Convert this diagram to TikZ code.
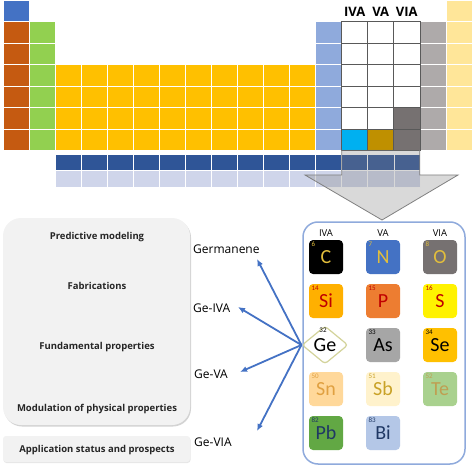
\documentclass[tikz,border=0pt]{standalone}
\usepackage{fontspec}
\setmainfont{Open Sans}
\newfontfamily\elfont{Carlito}
\usetikzlibrary{shapes.geometric,shadows,arrows.meta}

\definecolor{hblue}{HTML}{4472C4}
\definecolor{alkali}{HTML}{C55A11}
\definecolor{alkearth}{HTML}{92D050}
\definecolor{dblock}{HTML}{FFC000}
\definecolor{boron}{HTML}{8FAADC}
\definecolor{halogen}{HTML}{AEAAAA}
\definecolor{noble}{HTML}{FFE699}
\definecolor{lanth}{HTML}{2F5597}
\definecolor{actin}{HTML}{CFD5EA}
\definecolor{gridgray}{HTML}{595959}
\definecolor{darkgray}{HTML}{767171}
\definecolor{tlcyan}{HTML}{00B0F0}
\definecolor{bigold}{HTML}{BF9000}
\definecolor{panelgray}{HTML}{F2F2F2}
\definecolor{boxblue}{HTML}{8FAADC}
\definecolor{linkblue}{HTML}{4472C4}
\definecolor{elgold}{HTML}{E2BE3C}
\definecolor{elred}{HTML}{C00000}
\definecolor{elnavy}{HTML}{1F3864}
\definecolor{geedge}{HTML}{D3D39A}
\definecolor{sifill}{HTML}{FFB000}
\definecolor{pfill}{HTML}{ED7D31}
\definecolor{asfill}{HTML}{A6A6A6}
\definecolor{snfill}{HTML}{FFD89A}
\definecolor{sntext}{HTML}{E0A040}
\definecolor{sbfill}{HTML}{FFF2CC}
\definecolor{sbtext}{HTML}{C9A227}
\definecolor{tefill}{HTML}{A9D18E}
\definecolor{tetext}{HTML}{BF9F52}
\definecolor{pbfill}{HTML}{62A844}
\definecolor{bifill}{HTML}{B4C7E7}

\tikzset{
  topic/.style={font=\bfseries\fontsize{9.5}{10}\selectfont, text=black!85},
  glabel/.style={anchor=west, inner sep=0pt, font=\fontsize{12}{13}\selectfont},
  grouphead/.style={font=\fontsize{9.5}{10}\selectfont},
  elembox/.style={rounded corners=4pt, minimum size=34pt, inner sep=0pt,
    font=\elfont\fontsize{20}{20}\selectfont},
  elnum/.style={anchor=north west, inner sep=0pt, font=\elfont\fontsize{7}{7}\selectfont},
  link/.style={linkblue, line width=1.8pt, -{Latex[length=7pt,width=6pt]}}
}

% periodic table cell: column, row, colour
\newcommand{\ptcell}[3]{%
  \draw[draw=white, line width=0.5pt, fill=#3]
    (3+#1*\cw-\cw, #2*\rh-\rh) rectangle (3+#1*\cw, #2*\rh);}
% element card: symbol, number, x, y, fill, text colour
\newcommand{\elcell}[6]{%
  \node[elembox, fill=#5, text=#6] (el#1) at (#3,#4) {#1};
  \node[elnum, text=#6] (num#1) at ([shift={(2.5,2)}]el#1.north west) {#2};}

\begin{document}
\begin{tikzpicture}[x=1pt,y=-1pt]
\def\cw{26.05}
\def\rh{21.5}
\useasboundingbox (0,0) rectangle (474,468);

% periodic table
\ptcell{1}{1}{hblue}
\foreach \r in {2,...,7} {
  \ptcell{1}{\r}{alkali}
  \ptcell{2}{\r}{alkearth}
  \ptcell{13}{\r}{boron}
  \ptcell{17}{\r}{halogen}
}
\foreach \r in {1,...,7} {\ptcell{18}{\r}{noble}}
\foreach \c in {3,...,12} {\foreach \r in {4,...,7} {\ptcell{\c}{\r}{dblock}}}
\foreach \c in {14,15,16} {\foreach \r in {2,...,7} {
  \draw[draw=gridgray, line width=0.6pt, fill=white]
    (3+\c*\cw-\cw, \r*\rh-\rh) rectangle (3+\c*\cw, \r*\rh);}}
\draw[draw=gridgray, line width=0.6pt, fill=darkgray] (3+15*\cw, 5*\rh) rectangle (3+16*\cw, 6*\rh);
\draw[draw=gridgray, line width=0.6pt, fill=tlcyan] (3+13*\cw, 6*\rh) rectangle (3+14*\cw, 7*\rh);
\draw[draw=gridgray, line width=0.6pt, fill=bigold] (3+14*\cw, 6*\rh) rectangle (3+15*\cw, 7*\rh);
\draw[draw=gridgray, line width=0.6pt, fill=darkgray] (3+15*\cw, 6*\rh) rectangle (3+16*\cw, 7*\rh);

\node[font=\bfseries\fontsize{13}{13}\selectfont] (topIVA) at (3+13.5*\cw, 12) {IVA};
\node[font=\bfseries\fontsize{13}{13}\selectfont] (topVA) at (3+14.5*\cw, 12) {VA};
\node[font=\bfseries\fontsize{13}{13}\selectfont] (topVIA) at (3+15.5*\cw, 12) {VIA};

% lanthanides and actinides
\foreach \c in {3,...,16} {
  \draw[draw=white, line width=0.5pt, fill=lanth] (3+\c*\cw-\cw, 154) rectangle (3+\c*\cw, 170.5);
  \draw[draw=white, line width=0.5pt, fill=actin] (3+\c*\cw-\cw, 170.5) rectangle (3+\c*\cw, 187);
}

% block arrow down to the groups
\draw[draw=gray, line width=0.8pt, fill=gray, fill opacity=0.3]
  (3+13*\cw, 150) -- (3+13*\cw, 175) -- (305, 175) -- (382, 220)
  -- (458, 175) -- (3+16*\cw, 175) -- (3+16*\cw, 150);

% topics
\draw[fill=panelgray, draw=none, rounded corners=18pt,
  drop shadow={opacity=0.35, shadow xshift=1pt, shadow yshift=-1.5pt}]
  (3,218) rectangle (190,425);
\draw[fill=panelgray, draw=none, rounded corners=3pt,
  drop shadow={opacity=0.2, shadow xshift=0.5pt, shadow yshift=-1pt}]
  (3,436) rectangle (190,462);
\node[topic] (predictive) at (97,237) {Predictive modeling};
\node[topic] (fabrications) at (97,286) {Fabrications};
\node[topic] (fundamental) at (97,347) {Fundamental properties};
\node[topic] (modulation) at (97,409) {Modulation of physical properties};
\node[topic] (application) at (97,450) {Application status and prospects};

% groups IVA to VIA
\draw[draw=boxblue, line width=1.5pt, rounded corners=15pt, fill=white] (303,222) rectangle (465,464);
\node[grouphead] (hIVA) at (326,233) {IVA};
\node[grouphead] (hVA) at (383,233) {VA};
\node[grouphead] (hVIA) at (440,233) {VIA};

\elcell{C}{6}{326}{257}{black}{elgold}
\elcell{N}{7}{383}{257}{hblue}{elgold}
\elcell{O}{8}{440}{257}{darkgray}{elgold}
\elcell{Si}{14}{326}{301}{sifill}{elred}
\elcell{P}{15}{383}{301}{pfill}{elred}
\elcell{S}{16}{440}{301}{yellow}{elred}
\elcell{As}{33}{383}{345}{asfill}{black}
\elcell{Se}{34}{440}{345}{dblock}{black}
\elcell{Sn}{50}{326}{389}{snfill}{sntext}
\elcell{Sb}{51}{383}{389}{sbfill}{sbtext}
\elcell{Te}{52}{440}{389}{tefill}{tetext}
\elcell{Pb}{82}{326}{433}{pbfill}{elnavy}
\elcell{Bi}{83}{383}{433}{bifill}{elnavy}

\node[diamond, draw=geedge, line width=1.2pt, fill=white, minimum width=46pt,
  minimum height=38pt, inner sep=0pt, rounded corners=3pt,
  font=\elfont\fontsize{20}{20}\selectfont] (elGe) at (325,345) {Ge};
\node[elnum, anchor=center] (numGe) at (323,330) {32};

% derived materials
\node[glabel] (germanene) at (193,249) {Germanene};
\node[glabel] (geIVA) at (193,308) {Ge-IVA};
\node[glabel] (geVA) at (194,374) {Ge-VA};
\node[glabel] (geVIA) at (194,442) {Ge-VIA};
\coordinate (tipGermanene) at (257,259);
\coordinate (tipIVA) at (238,307);
\coordinate (tipVA) at (240,372);
\coordinate (tipVIA) at (257,431);
\draw[link] (elGe.west) -- (tipGermanene);
\draw[link] (elGe.west) -- (tipIVA);
\draw[link] (elGe.west) -- (tipVA);
\draw[link] (elGe.west) -- (tipVIA);
\end{tikzpicture}
\end{document}
